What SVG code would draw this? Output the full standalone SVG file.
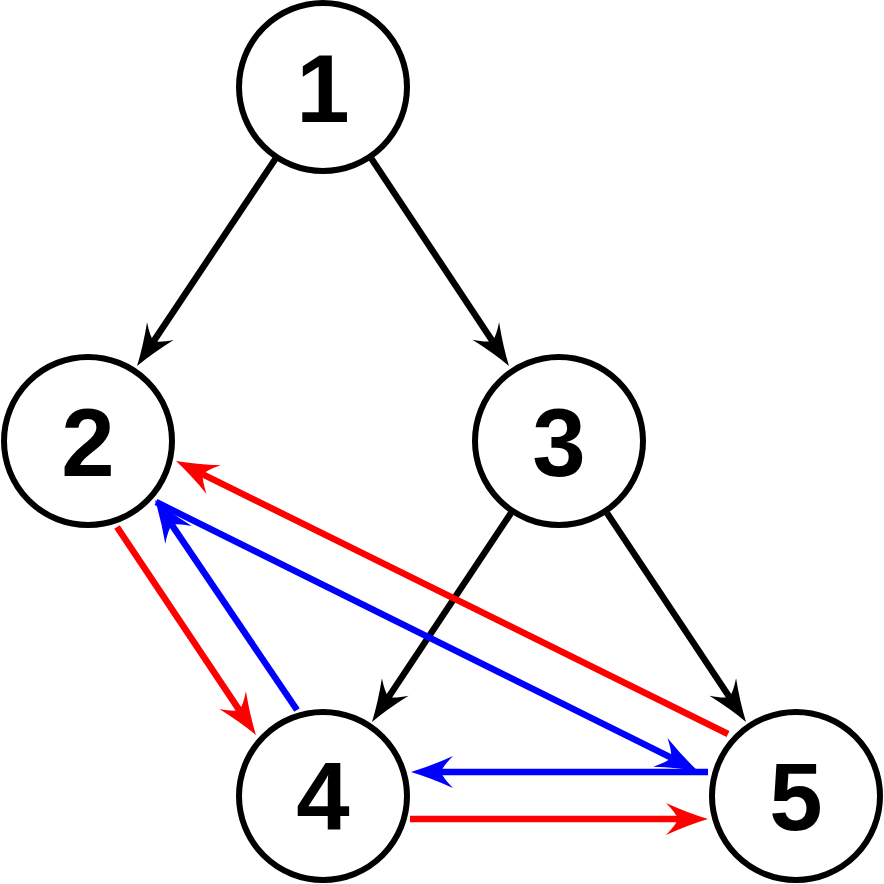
<svg xmlns="http://www.w3.org/2000/svg" width="884" height="884" viewBox="0 0 884 884">
<style>
.node circle{fill:#fff;stroke:#000;stroke-width:6}
.node text{font-family:"Liberation Sans","DejaVu Sans",sans-serif;font-weight:bold;font-size:96px;text-anchor:middle;fill:#000}
.e{fill:none;stroke-width:6.5}
.k{stroke:#000;marker-end:url(#ak)}
.r{stroke:#ff0000;marker-end:url(#ar)}
.b{stroke:#0000ff;marker-end:url(#ab)}
</style>
<defs>
<path id="head" d="M0,0 Q-20,-6 -42,-16 Q-32,-6 -30,0 Q-32,6 -42,16 Q-20,6 0,0 Z"/>
<marker id="ak" markerUnits="userSpaceOnUse" viewBox="-44 -18 46 36" markerWidth="46" markerHeight="36" refX="-30" refY="0" orient="auto"><use href="#head" fill="#000"/></marker>
<marker id="ar" markerUnits="userSpaceOnUse" viewBox="-44 -18 46 36" markerWidth="46" markerHeight="36" refX="-30" refY="0" orient="auto"><use href="#head" fill="#ff0000"/></marker>
<marker id="ab" markerUnits="userSpaceOnUse" viewBox="-44 -18 46 36" markerWidth="46" markerHeight="36" refX="-30" refY="0" orient="auto"><use href="#head" fill="#0000ff"/></marker>
</defs>
<g id="connectors">
<line class="e k" x1="276" y1="158" x2="153.7" y2="341.1"/>
<line class="e k" x1="371" y1="158" x2="492.4" y2="341"/>
<line class="e k" x1="511" y1="513" x2="388.6" y2="697"/>
<line class="e k" x1="607" y1="513" x2="729.4" y2="697"/>
<line class="e r" x1="117" y1="527" x2="239.3" y2="710.1"/>
<line class="e b" x1="297" y1="710" x2="171.8" y2="524.9"/>
<line class="e r" x1="728" y1="734" x2="202.9" y2="474.3"/>
<line class="e b" x1="156" y1="502" x2="671.1" y2="757.7"/>
<line class="e b" x1="708" y1="772" x2="441" y2="772"/>
<line class="e r" x1="410" y1="819" x2="678" y2="819"/>
</g>
<g id="node1" class="node"><circle cx="323" cy="87" r="84"/><text x="323" y="122">1</text></g>
<g id="node2" class="node"><circle cx="88" cy="441" r="84"/><text x="88" y="476">2</text></g>
<g id="node3" class="node"><circle cx="559" cy="441" r="84"/><text x="559" y="476">3</text></g>
<g id="node4" class="node"><circle cx="323" cy="796" r="84"/><text x="323" y="830">4</text></g>
<g id="node5" class="node"><circle cx="796" cy="796" r="84"/><text x="796" y="830">5</text></g>
</svg>
